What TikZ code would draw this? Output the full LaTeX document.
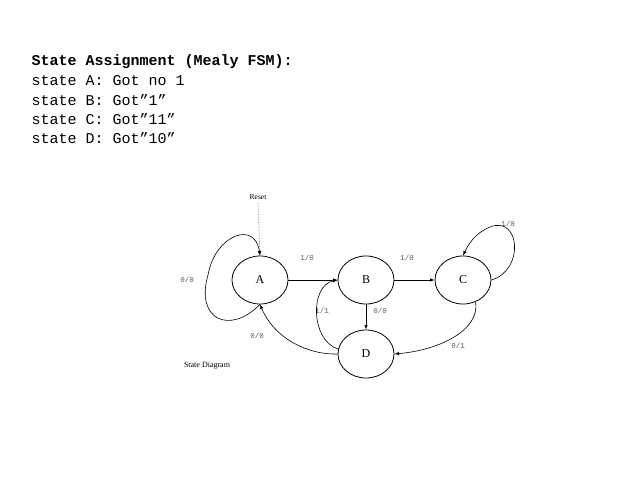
\documentclass[tikz,border=0pt]{standalone}
\usepackage{fontspec}
\setmonofont{Liberation Mono}
\setmainfont{Liberation Serif}
\usetikzlibrary{shapes.geometric}
\begin{document}
\begin{tikzpicture}[x=1pt,y=-1pt,
  st/.style={ellipse,draw,line width=0.8pt,minimum width=56pt,minimum height=48pt,font=\fontsize{12}{12}\selectfont},
  lab/.style={font=\ttfamily\fontsize{7.5}{8}\selectfont,text=black!65},
  ed/.style={-latex,line width=0.6pt},
  hd/.style={anchor=west,font=\ttfamily\fontsize{15}{15}\selectfont}]
\useasboundingbox (0,0) rectangle (638,479);
\node[hd,font=\ttfamily\bfseries\fontsize{15}{15}\selectfont] (h0) at (28,62) {State Assignment (Mealy FSM):};
\node[hd] (h1) at (28,81) {state A: Got no 1};
\node[hd] (h2) at (28,100) {state B: Got”1”};
\node[hd] (h3) at (28,119) {state C: Got”11”};
\node[hd] (h4) at (28,138) {state D: Got”10”};
\node[st] (A) at (260,280) {A};
\node[st] (B) at (366,280) {B};
\node[st] (C) at (463,280) {C};
\node[st] (D) at (366,354) {D};
\node[font=\fontsize{7.5}{8}\selectfont] (R) at (258,197) {Reset};
\node[font=\fontsize{8}{8}\selectfont] (SD) at (207,366) {State Diagram};
\draw[ed,densely dotted,black!60] (R.south) -- (A.north);
\draw[ed] (A) -- (B);
\draw[ed] (B) -- (C);
\draw[ed] (B) -- (D);
\draw[ed] (A.south) .. controls (230,335) and (195,320) .. (208,275) .. controls (215,235) and (255,220) .. (A.north);
\draw[ed] (C.east) .. controls (525,270) and (520,215) .. (490,227) .. controls (475,233) and (468,245) .. (C.north);
\draw[ed] (D.west) .. controls (310,355) and (275,340) .. (A.south);
\draw[ed] (D.170) .. controls (310,340) and (310,285) .. (B.west);
\draw[ed] (C.-60) .. controls (480,330) and (440,350) .. (D.east);
\node[lab] (l1) at (307,258) {1/0};
\node[lab] (l2) at (407,258) {1/0};
\node[lab] (l3) at (508,224) {1/0};
\node[lab] (l4) at (187,280) {0/0};
\node[lab] (l5) at (322,311) {1/1};
\node[lab] (l6) at (380,311) {0/0};
\node[lab] (l7) at (257,336) {0/0};
\node[lab] (l8) at (458,346) {0/1};
\end{tikzpicture}
\end{document}
